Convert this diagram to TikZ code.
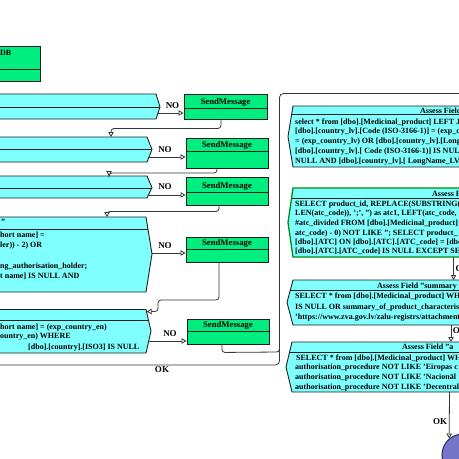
\documentclass[tikz,border=0pt]{standalone}
\usepackage{fontspec}
\setmainfont{Liberation Serif}
\usetikzlibrary{arrows.meta,calc}
\definecolor{cy}{RGB}{128,255,255}
\definecolor{gr}{RGB}{0,238,128}
\definecolor{pu}{RGB}{118,118,200}
\definecolor{dk}{RGB}{30,30,30}
\definecolor{ln}{RGB}{55,55,55}
\definecolor{atcg}{RGB}{0,140,20}
\definecolor{navy}{RGB}{40,40,90}
\tikzset{
 cybox/.style={draw=dk, fill=cy, line width=0.9pt, line join=miter},
 atcbox/.style={draw=atcg, fill=cy, line width=1.3pt, line join=miter},
 grbox/.style={draw=dk, fill=gr, line width=0.9pt, inner sep=0pt},
 divl/.style={draw=dk, line width=0.8pt},
 sql/.style={anchor=base west, inner sep=0pt, font=\fontsize{8}{9.7}\selectfont\bfseries, text=black},
 smt/.style={anchor=base, inner sep=0pt, font=\fontsize{8.7}{10}\selectfont\bfseries, text=black},
 lbl/.style={inner sep=0pt, font=\fontsize{9}{10}\selectfont\bfseries, text=black},
 conn/.style={draw=ln, line width=0.8pt, rounded corners=3pt},
 arr/.style={conn, -{Triangle[fill=white, length=5pt, width=5.5pt]}},
}
\begin{document}
\begin{tikzpicture}[x=1pt,y=-1pt]
\useasboundingbox (0,0) rectangle (459,459);
\clip (0,0) rectangle (459,459);
\fill[white] (0,0) rectangle (459,459);

% ---------- top-left DB box
\node[grbox, minimum width=46pt, minimum height=35pt, anchor=north east] (db) at (41,46) {};
\draw[divl] (db.west |- 0,69) -- (db.east |- 0,69);
\node[sql, anchor=base east] (dbt) at (11.5,55.5) {DB};

% ---------- left column boxes
\draw[cybox] (-5,94) -- (156,94) -- (160,107) -- (156,119) -- (-5,119) -- cycle;
\draw[divl] (-5,107) -- (159.5,107);
\draw[cybox] (-5,137) -- (147,137) -- (152,149.5) -- (147,162) -- (-5,162) -- cycle;
\draw[divl] (-5,149) -- (151.5,149);
\draw[cybox] (-5,176) -- (147,176) -- (152,187.5) -- (147,198) -- (-5,198) -- cycle;
\draw[divl] (-5,188) -- (151.5,188);
\draw[cybox] (-5,217) -- (146,217) -- (152,254) -- (146,292) -- (-5,292) -- cycle;
\draw[divl] (-5,229) -- (147.8,229);
\draw[cybox] (-5,309.5) -- (146,309.5) -- (151,331) -- (146,353) -- (-5,353) -- cycle;
\draw[divl] (-5,320) -- (148.3,320);

\coordinate (b1o) at (158,113);
\coordinate (b2o) at (149.2,157);
\coordinate (b3o) at (148.5,195);
\coordinate (b4o) at (151.9,253);
\coordinate (b5o) at (148.7,341);
\coordinate (b2i) at (111,137);
\coordinate (b3i) at (109,176);
\coordinate (b4i) at (107,217);
\coordinate (b5i) at (146.6,311.5);

% texts in box 4
\node[sql] (t4a) at (1,224.5) {"};
\node[sql] (t4b) at (0,237.8) {hort name] =};
\node[sql] (t4c) at (0,247.2) {ler)) - 2) OR};
\node[sql] (t4d) at (0,268.5) {ng\_authorisation\_holder;};
\node[sql] (t4e) at (0,278.5) {t name] IS NULL AND};
% texts in box 5
\node[sql] (t5a) at (0,329) {hort name] = (exp\_country\_en)};
\node[sql] (t5b) at (0,338.7) {ountry\_en) WHERE};
\node[sql] (t5c) at (28,349.5) {[dbo].[country].[ISO3] IS NULL};

% ---------- SendMessage boxes
\node[grbox, minimum width=83pt, minimum height=25pt] (s1) at (225.5,106.5) {};
\draw[divl] (s1.west |- 0,108) -- (s1.east |- 0,108);
\node[smt] at (s1.center |- 0,104) {SendMessage};
\node[grbox, minimum width=82pt, minimum height=30pt] (s2) at (227,153) {};
\draw[divl] (s2.west |- 0,151) -- (s2.east |- 0,151);
\node[smt] at (s2.center |- 0,147.5) {SendMessage};
\node[grbox, minimum width=82pt, minimum height=28pt] (s3) at (227,191) {};
\draw[divl] (s3.west |- 0,192) -- (s3.east |- 0,192);
\node[smt] at (s3.center |- 0,188.5) {SendMessage};
\node[grbox, minimum width=82pt, minimum height=25pt] (s4) at (227,249.5) {};
\draw[divl] (s4.west |- 0,249) -- (s4.east |- 0,249);
\node[smt] at (s4.center |- 0,245.5) {SendMessage};
\node[grbox, minimum width=82pt, minimum height=25pt] (s5) at (228,331.5) {};
\draw[divl] (s5.west |- 0,331) -- (s5.east |- 0,331);
\node[smt] at (s5.center |- 0,327.5) {SendMessage};

% NO connectors
\draw[arr] (b1o) -- (b1o -| s1.west);
\draw[arr] (b2o) -- (b2o -| s2.west);
\draw[arr] (b3o) -- (b3o -| s3.west);
\draw[arr] (b4o) -- (b4o -| s4.west);
\draw[arr] (b5o) -- (b5o -| s5.west);
\node[lbl] (no1) at (172.5,106) {NO};
\node[lbl] (no2) at (165,150) {NO};
\node[lbl] (no3) at (165,186.5) {NO};
\node[lbl] (no4) at (165,246) {NO};
\node[lbl] (no5) at (170,333.5) {NO};

% SendMessage return connectors
\draw[arr] ($(s1.south)+(-4.5,0)$) -- ++(0,9) -| (b2i);
\draw[arr] ($(s2.south)+(-10,0)$) -- ++(0,4.5) -| (b3i);
\draw[arr] ($(s3.south)+(-8,0)$) -- ++(0,6) -| (b4i);
\draw[arr] ($(s4.south)+(-8,0)$) |- (158,300) -- (158,311.5) -- (b5i);
\draw[conn] ($(s5.south)+(-6,0)$) -- ++(0,8) -- (279.5,352) -- (279.5,344);

% main OK connector
\draw[conn, rounded corners=4pt] (-5,365) -- (279.5,365) -- (279.5,93.5) -- (470,93.5);
\node[lbl] (ok1) at (162,369.5) {OK};

% ---------- right column boxes
\draw[cybox] (470,106) -- (293,106) -- (288,136.5) -- (293,167) -- (470,167) -- cycle;
\draw[divl] (291.6,114.7) -- (470,114.7);
\node[sql] at (420,113.8) {Assess Field};
\node[sql] at (295,124.5) {select * from [dbo].[Medicinal\_product] LEFT J};
\node[sql] at (295,133.8) {[dbo].[country\_lv].[Code (ISO-3166-1)] = (exp\_c};
\node[sql] at (295,143.8) {= (exp\_country\_lv) OR [dbo].[country\_lv].[Long};
\node[sql] at (295,153.8) {[dbo].[country\_lv].[ Code (ISO-3166-1)] IS NUL};
\node[sql] at (295,163.1) {NULL AND [dbo].[country\_lv].[ LongName\_LV]};

\draw[atcbox] (470,188) -- (293,188) -- (288,222.5) -- (293,257) -- (470,257) -- cycle;
\draw[divl] (291.5,198.5) -- (470,198.5);
\node[sql] at (432,196.8) {Assess F};
\node[sql] at (295,206.3) {SELECT product\_id, REPLACE(SUBSTRING(};
\node[sql] at (295,215.8) {LEN(atc\_code)), ';', '') as atc1, LEFT(atc\_code,};
\node[sql] at (295,225.3) {\#atc\_divided FROM [dbo].[Medicinal\_product]};
\node[sql] at (295,235.3) {atc\_code) - 0) NOT LIKE ''; SELECT product\_};
\node[sql] at (295,244.3) {[dbo].[ATC] ON [dbo].[ATC].[ATC\_code] = [dbo};
\node[sql] at (295,253.3) {[dbo].[ATC].[ATC\_code] IS NULL EXCEPT SE};

\draw[cybox] (470,280) -- (293,280) -- (287,302.5) -- (293,325) -- (470,325) -- cycle;
\draw[divl] (290.1,290.7) -- (470,290.7);
\node[sql] at (377,288.8) {Assess Field "summary};
\node[sql] at (295,298.8) {SELECT * from [dbo].[Medicinal\_product] WH};
\node[sql] at (295,309.5) {IS NULL OR summary\_of\_product\_characteristi};
\node[sql] at (295,319.5) {'https://www.zva.gov.lv/zalu-registrs/attachments/};

\draw[cybox] (470,342) -- (292,342) -- (286,367) -- (292,392) -- (470,392) -- cycle;
\draw[divl] (289.6,352) -- (470,352);
\node[sql] at (402,349.8) {Assess Field "a};
\node[sql] at (296,360.5) {SELECT * from [dbo].[Medicinal\_product] WH};
\node[sql] at (295,369.8) {authorisation\_procedure NOT LIKE 'Eiropas c};
\node[sql] at (295,379.5) {authorisation\_procedure NOT LIKE 'Nacionāl};
\node[sql] at (295,389.3) {authorisation\_procedure NOT LIKE 'Decentral};

% right connectors
\coordinate (r2b) at (453.5,257);
\coordinate (r3t) at (453.5,280);
\coordinate (r3b) at (451,325);
\coordinate (r4t) at (451,342);
\coordinate (r4b) at (449.5,392);
\draw[arr] (r2b) -- (r3t);
\node[lbl, anchor=west] (ok2) at (455.3,268.3) {OK};
\draw[arr] (r3b) -- (r4t);
\node[lbl, anchor=west] (ok3) at (452.7,330.5) {OK};

% end event
\node[circle, draw=navy, fill=pu, line width=1pt, minimum size=42pt, inner sep=0pt] (end) at (463,455) {};
\draw[arr] (r4b) -- (end.130);
\node[lbl] (ok4) at (440,421.7) {OK};
\end{tikzpicture}
\end{document}
